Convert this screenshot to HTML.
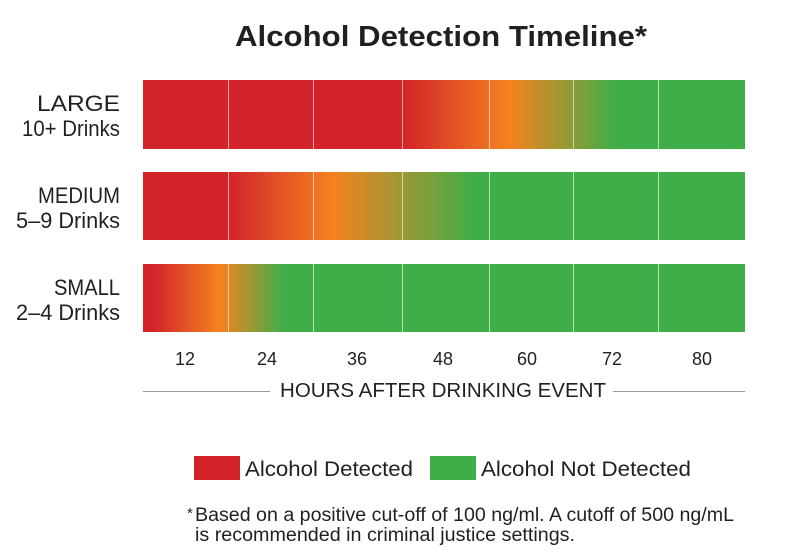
<!DOCTYPE html>
<html>
<head>
<meta charset="utf-8">
<style>
  html,body{margin:0;padding:0;background:#fff;}
  svg{display:block;}
  text{font-family:"Liberation Sans", sans-serif;fill:#231f20;}
</style>
</head>
<body>
<svg width="800" height="558" viewBox="0 0 800 558" xmlns="http://www.w3.org/2000/svg">
  <defs>
    <linearGradient id="g1" x1="143" y1="0" x2="745" y2="0" gradientUnits="userSpaceOnUse">
      <stop offset="0" stop-color="#D2232A"/>
      <stop offset="0.430" stop-color="#D2232A"/>
      <stop offset="0.610" stop-color="#F5821F"/>
      <stop offset="0.785" stop-color="#3FAE49"/>
      <stop offset="1" stop-color="#3FAE49"/>
    </linearGradient>
    <linearGradient id="g2" x1="143" y1="0" x2="745" y2="0" gradientUnits="userSpaceOnUse">
      <stop offset="0" stop-color="#D2232A"/>
      <stop offset="0.141" stop-color="#D2232A"/>
      <stop offset="0.315" stop-color="#F5821F"/>
      <stop offset="0.551" stop-color="#3FAE49"/>
      <stop offset="1" stop-color="#3FAE49"/>
    </linearGradient>
    <linearGradient id="g3" x1="143" y1="0" x2="745" y2="0" gradientUnits="userSpaceOnUse">
      <stop offset="0" stop-color="#D2232A"/>
      <stop offset="0.015" stop-color="#D2232A"/>
      <stop offset="0.128" stop-color="#F5821F"/>
      <stop offset="0.233" stop-color="#3FAE49"/>
      <stop offset="1" stop-color="#3FAE49"/>
    </linearGradient>
  </defs>

  <!-- Title -->
  <text x="235" y="46" font-size="29" font-weight="bold" textLength="412" lengthAdjust="spacingAndGlyphs">Alcohol Detection Timeline*</text>

  <!-- Bars -->
  <rect x="143" y="80" width="602" height="69" fill="url(#g1)"/>
  <rect x="143" y="172" width="602" height="68" fill="url(#g2)"/>
  <rect x="143" y="264" width="602" height="68" fill="url(#g3)"/>

  <!-- Gridlines -->
  <g stroke="#ffffff" stroke-opacity="0.6" stroke-width="1">
    <line x1="228.5" y1="80" x2="228.5" y2="149"/>
    <line x1="313.5" y1="80" x2="313.5" y2="149"/>
    <line x1="402.5" y1="80" x2="402.5" y2="149"/>
    <line x1="489.5" y1="80" x2="489.5" y2="149"/>
    <line x1="573.5" y1="80" x2="573.5" y2="149"/>
    <line x1="658.5" y1="80" x2="658.5" y2="149"/>

    <line x1="228.5" y1="172" x2="228.5" y2="240"/>
    <line x1="313.5" y1="172" x2="313.5" y2="240"/>
    <line x1="402.5" y1="172" x2="402.5" y2="240"/>
    <line x1="489.5" y1="172" x2="489.5" y2="240"/>
    <line x1="573.5" y1="172" x2="573.5" y2="240"/>
    <line x1="658.5" y1="172" x2="658.5" y2="240"/>

    <line x1="228.5" y1="264" x2="228.5" y2="332"/>
    <line x1="313.5" y1="264" x2="313.5" y2="332"/>
    <line x1="402.5" y1="264" x2="402.5" y2="332"/>
    <line x1="489.5" y1="264" x2="489.5" y2="332"/>
    <line x1="573.5" y1="264" x2="573.5" y2="332"/>
    <line x1="658.5" y1="264" x2="658.5" y2="332"/>
  </g>

  <!-- Row labels -->
  <g font-size="22" text-anchor="end">
    <text x="120" y="111" textLength="83" lengthAdjust="spacingAndGlyphs">LARGE</text>
    <text x="120" y="136" textLength="98" lengthAdjust="spacingAndGlyphs">10+ Drinks</text>
    <text x="120" y="203" textLength="82" lengthAdjust="spacingAndGlyphs">MEDIUM</text>
    <text x="120" y="228" textLength="104" lengthAdjust="spacingAndGlyphs">5–9 Drinks</text>
    <text x="120" y="295" textLength="66" lengthAdjust="spacingAndGlyphs">SMALL</text>
    <text x="120" y="320" textLength="104" lengthAdjust="spacingAndGlyphs">2–4 Drinks</text>
  </g>

  <!-- Tick labels -->
  <g font-size="18" text-anchor="middle">
    <text x="185" y="365">12</text>
    <text x="267" y="365">24</text>
    <text x="357" y="365">36</text>
    <text x="443" y="365">48</text>
    <text x="527" y="365">60</text>
    <text x="612" y="365">72</text>
    <text x="702" y="365">80</text>
  </g>

  <!-- Axis title with lines -->
  <line x1="143" y1="391.5" x2="270" y2="391.5" stroke="#9a9a9a" stroke-width="1"/>
  <line x1="613" y1="391.5" x2="745" y2="391.5" stroke="#9a9a9a" stroke-width="1"/>
  <text x="280" y="397" font-size="20" textLength="326" lengthAdjust="spacingAndGlyphs">HOURS AFTER DRINKING EVENT</text>

  <!-- Legend -->
  <rect x="194" y="456" width="46" height="24" fill="#D2232A"/>
  <text x="245" y="476" font-size="21" textLength="168" lengthAdjust="spacingAndGlyphs">Alcohol Detected</text>
  <rect x="430" y="456" width="46" height="24" fill="#3FAE49"/>
  <text x="481" y="476" font-size="21" textLength="210" lengthAdjust="spacingAndGlyphs">Alcohol Not Detected</text>

  <!-- Footnote -->
  <text x="187" y="518" font-size="15">*</text>
  <text x="195" y="521" font-size="19" textLength="539" lengthAdjust="spacingAndGlyphs">Based on a positive cut-off of 100 ng/ml. A cutoff of 500 ng/mL</text>
  <text x="195" y="541" font-size="19" textLength="380" lengthAdjust="spacingAndGlyphs">is recommended in criminal justice settings.</text>
</svg>
</body>
</html>
